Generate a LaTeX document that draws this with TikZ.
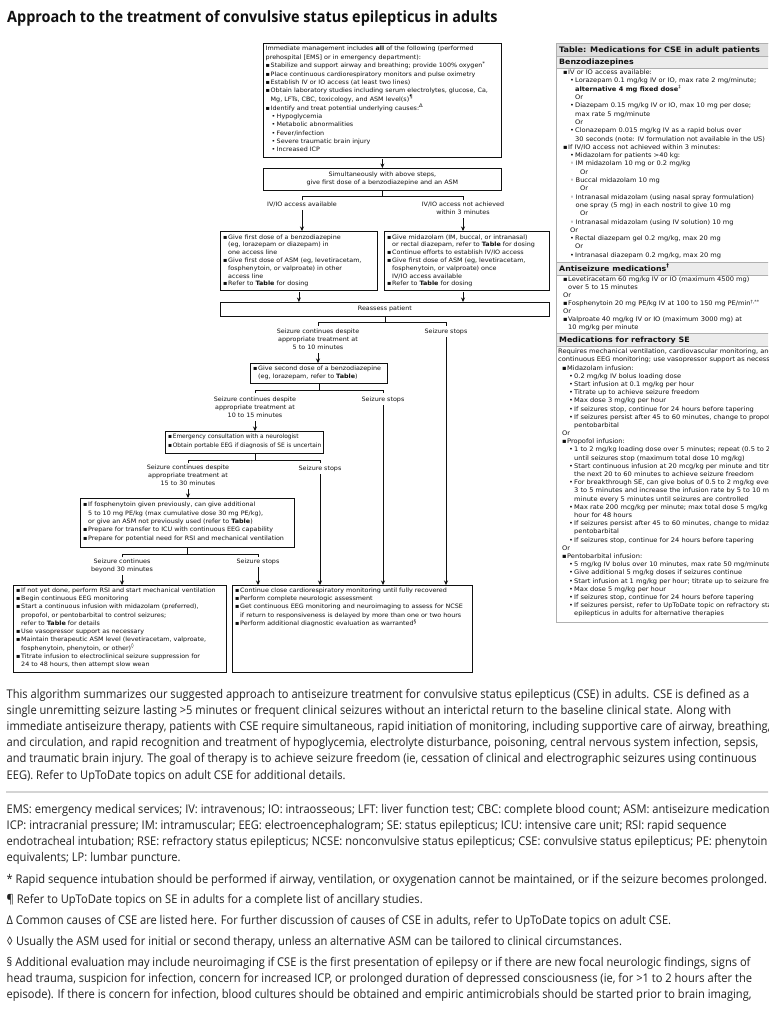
\documentclass[tikz,border=0pt]{standalone}
\usepackage{graphicx}
\usepackage{fontspec}
\setmainfont[FakeStretch=1.065]{DejaVu Sans}
\newfontfamily\fc[FakeStretch=1.065]{DejaVu Sans}
\newfontfamily\os[FakeStretch=0.925]{Open Sans}
\usetikzlibrary{arrows.meta,calc}
\definecolor{ink}{HTML}{111111}
\definecolor{txt}{HTML}{222222}
\definecolor{tblborder}{HTML}{B0B0B0}
\definecolor{tblhead}{HTML}{DDDDDD}
\definecolor{tblsec}{HTML}{ECECEC}
\definecolor{rulegray}{HTML}{D4D4D4}
\newcommand\bA{\makebox[5pt][l]{▪}}
\newcommand\bB{\makebox[5pt][l]{•}}
\newcommand\bC{\makebox[5.5pt][l]{◦}}
\newcommand\hs[1]{\hspace*{#1pt}}
\newcommand\TL[2]{{\fontsize{6}{#1}\selectfont\begin{tabular}[t]{@{}l@{}}#2\end{tabular}}}
\newcommand\TT[2]{{\fontsize{6.25}{#1}\selectfont\begin{tabular}[t]{@{}l@{}}#2\end{tabular}}}
\newcommand\TC[2]{{\fontsize{6}{#1}\selectfont\begin{tabular}[t]{@{}c@{}}#2\end{tabular}}}
\newcommand\PL[2]{{\fontsize{12}{#1}\selectfont\begin{tabular}[t]{@{}l@{}}#2\end{tabular}}}
\tikzset{
  box/.style={draw=ink, line width=0.8pt, inner sep=0, anchor=north west, text=ink},
  ftxt/.style={inner sep=0, anchor=base west, text=ink, font=\fc},
  ctxt/.style={inner sep=0, anchor=base, text=ink, font=\fc},
  ln/.style={draw=ink, line width=0.6pt},
  arr/.style={ln, shorten <=1pt, -{Stealth[length=4.5pt,width=4pt]}},
  para/.style={inner sep=0, anchor=base west, text=txt, font=\os},
  secrow/.style={fill=tblsec, draw=tblborder, line width=0.6pt, minimum width=230pt, anchor=north west, inner sep=0},
  sectxt/.style={inner sep=0, anchor=base west, text=ink, font=\fc\bfseries\fontsize{7.4}{8}\selectfont},
}
\begin{document}
\begin{tikzpicture}[x=1pt,y=-1pt]
\useasboundingbox (0,0) rectangle (768,1024);
\fill[white] (0,0) rectangle (768,1024);
\clip (0,0) rectangle (768,1024);

% title
\node[para, text=ink, font=\os\bfseries\fontsize{15.6}{18}\selectfont] (title) at (7,23) {Approach to the treatment of convulsive status epilepticus in adults};

% ---------- flowchart boxes ----------
\node[box, minimum width=238pt, minimum height=114pt] (top) at (263,43) {};
\node[ftxt] (topt) at (265.5,50.7) {\TL{8.33}{Immediate management includes \textbf{all} of the following (performed\\
prehospital [EMS] or in emergency department):\\
\bA Stabilize and support airway and breathing; provide 100\% oxygen\textsuperscript{*}\\
\bA Place continuous cardiorespiratory monitors and pulse oximetry\\
\bA Establish IV or IO access (at least two lines)\\
\bA Obtain laboratory studies including serum electrolytes, glucose, Ca,\\
\hs{5}Mg, LFTs, CBC, toxicology, and ASM level(s)\textsuperscript{¶}\\
\bA Identify and treat potential underlying causes:\textsuperscript{Δ}\\
\hs{6}\bB Hypoglycemia\\
\hs{6}\bB Metabolic abnormalities\\
\hs{6}\bB Fever/infection\\
\hs{6}\bB Severe traumatic brain injury\\
\hs{6}\bB Increased ICP}};

\node[box, minimum width=238pt, minimum height=22pt] (sim) at (263,168) {\TC{8}{Simultaneously with above steps,\\ give first dose of a benzodiazepine and an ASM}};

\node[ctxt] (la) at (302,206.7) {\TC{8}{IV/IO access available}};
\node[ctxt] (lb) at (463,206.7) {\TC{8}{IV/IO access not achieved\\ within 3 minutes}};

\node[box, minimum width=157pt, minimum height=59pt] (l1) at (220,231) {};
\node[ftxt] (l1t) at (223,239.2) {\TL{7.8}{\bA Give first dose of a benzodiazepine\\
\hs{5}(eg, lorazepam or diazepam) in\\
\hs{5}one access line\\
\bA Give first dose of ASM (eg, levetiracetam,\\
\hs{5}fosphenytoin, or valproate) in other\\
\hs{5}access line\\
\bA Refer to \textbf{Table} for dosing}};

\node[box, minimum width=165pt, minimum height=59pt] (r1) at (384,231) {};
\node[ftxt] (r1t) at (387,239.2) {\TL{7.8}{\bA Give midazolam (IM, buccal, or intranasal)\\
\hs{5}or rectal diazepam, refer to \textbf{Table} for dosing\\
\bA Continue efforts to establish IV/IO access\\
\bA Give first dose of ASM (eg, levetiracetam,\\
\hs{5}fosphenytoin, or valproate) once\\
\hs{5}IV/IO access available\\
\bA Refer to \textbf{Table} for dosing}};

\node[box, minimum width=329pt, minimum height=13.5pt] (re) at (220,302) {\TC{8}{Reassess patient}};

\node[ctxt] (lc) at (318,333.7) {\TC{8}{Seizure continues despite\\ appropriate treatment at\\ 5 to 10 minutes}};
\node[ctxt] (ld) at (446,333.7) {\TC{8}{Seizure stops}};

\node[box, minimum width=137pt, minimum height=20pt] (sd) at (250,363) {};
\node[ftxt] (sdt) at (253,370.7) {\TL{8}{\bA Give second dose of a benzodiazepine\\
\hs{5}(eg, lorazepam, refer to \textbf{Table})}};

\node[ctxt] (le) at (255,401.7) {\TC{8}{Seizure continues despite\\ appropriate treatment at\\ 10 to 15 minutes}};
\node[ctxt] (lf) at (383,401.7) {\TC{8}{Seizure stops}};

\node[box, minimum width=158pt, minimum height=22pt] (ne) at (165,431) {};
\node[ftxt] (net) at (168,438.7) {\scalebox{0.92}[1]{\TL{8.5}{\bA Emergency consultation with a neurologist\\
\bA Obtain portable EEG if diagnosis of SE is uncertain}}};

\node[ctxt] (lg) at (188,469.7) {\TC{8}{Seizure continues despite\\ appropriate treatment at\\ 15 to 30 minutes}};
\node[ctxt] (lh) at (320,470.7) {\TC{8}{Seizure stops}};

\node[box, minimum width=214pt, minimum height=49pt] (fo) at (80,498) {};
\node[ftxt] (fot) at (83,506.7) {\TL{8.4}{\bA If fosphenytoin given previously, can give additional\\
\hs{5}5 to 10 mg PE/kg (max cumulative dose 30 mg PE/kg),\\
\hs{5}or give an ASM not previously used (refer to \textbf{Table})\\
\bA Prepare for transfer to ICU with continuous EEG capability\\
\bA Prepare for potential need for RSI and mechanical ventilation}};

\node[ctxt] (li) at (122,563.7) {\TC{8}{Seizure continues\\ beyond 30 minutes}};
\node[ctxt] (lj) at (258,563.7) {\TC{8}{Seizure stops}};

\node[box, minimum width=213pt, minimum height=87pt] (bl) at (13,585) {};
\node[ftxt] (blt) at (16,592.7) {\TL{8.1}{\bA If not yet done, perform RSI and start mechanical ventilation\\
\bA Begin continuous EEG monitoring\\
\bA Start a continuous infusion with midazolam (preferred),\\
\hs{5}propofol, or pentobarbital to control seizures;\\
\hs{5}refer to \textbf{Table} for details\\
\bA Use vasopressor support as necessary\\
\bA Maintain therapeutic ASM level (levetiracetam, valproate,\\
\hs{5}fosphenytoin, phenytoin, or other)\textsuperscript{◊}\\
\bA Titrate infusion to electroclinical seizure suppression for\\
\hs{5}24 to 48 hours, then attempt slow wean}};

\node[box, minimum width=240pt, minimum height=87pt] (br) at (232,585) {};
\node[ftxt] (brt) at (235,592.7) {\TL{8.1}{\bA Continue close cardiorespiratory monitoring until fully recovered\\
\bA Perform complete neurologic assessment\\
\bA Get continuous EEG monitoring and neuroimaging to assess for NCSE\\
\hs{5}if return to responsiveness is delayed by more than one or two hours\\
\bA Perform additional diagnostic evaluation as warranted\textsuperscript{§}}};

% ---------- connectors ----------
\draw[arr] (top.south) -- (sim.north);
\coordinate (j1) at ($(sim.south)+(0,6)$);
\draw[ln] (sim.south) -- (j1);
\draw[ln] ($(la.north |- j1)+(0,3.5)$) -- (la.north |- j1) -- (lb.north |- j1) -- ++(0,3.5);
\draw[arr] (la.south) -- (la.south |- l1.north);
\draw[arr] (lb.south) -- (lb.south |- r1.north);
\draw[arr] (l1.south) -- (l1.south |- re.north);
\draw[arr] (r1.south -| lb.south) -- (lb.south |- re.north);

\coordinate (j2) at ($(re.south)+(0,6)$);
\draw[ln] (re.south) -- (j2);
\draw[ln] ($(lc.north |- j2)+(0,3.5)$) -- (lc.north |- j2) -- (ld.north |- j2) -- ++(0,3.5);
\draw[arr] (lc.south) -- (lc.south |- sd.north);
\draw[arr] (ld.south) -- (ld.south |- br.north);

\coordinate (j3) at ($(sd.south)+(0,6)$);
\draw[ln] (sd.south) -- (j3);
\draw[ln] ($(le.north |- j3)+(0,3.5)$) -- (le.north |- j3) -- (lf.north |- j3) -- ++(0,3.5);
\draw[arr] (le.south) -- (le.south |- ne.north);
\draw[arr] (lf.south) -- (lf.south |- br.north);

\coordinate (j4) at ($(le.south |- ne.south)+(0,6)$);
\draw[ln] (le.south |- ne.south) -- (j4);
\draw[ln] ($(lg.north |- j4)+(0,3.5)$) -- (lg.north |- j4) -- (lh.north |- j4) -- ++(0,3.5);
\draw[arr] (lg.south) -- (lg.south |- fo.north);
\draw[arr] (lh.south) -- (lh.south |- br.north);

\coordinate (j5) at ($(fo.south)+(0,6)$);
\draw[ln] (fo.south) -- (j5);
\draw[ln] ($(li.north |- j5)+(0,3.5)$) -- (li.north |- j5) -- (lj.north |- j5) -- ++(0,3.5);
\draw[arr] (li.south) -- (li.south |- bl.north);
\draw[arr] (lj.south) -- (lj.south |- br.north);

% ---------- table ----------
\node[draw=tblborder, line width=0.8pt, minimum width=230pt, minimum height=579pt, anchor=north west, inner sep=0] (tbl) at (556,43) {};
\node[secrow, fill=tblhead, minimum height=13pt] (th) at (556,43) {};
\node[secrow, minimum height=12pt] (s1) at (556,56) {};
\node[secrow, minimum height=13pt] (s2) at (556,262) {};
\node[secrow, minimum height=13pt] (s3) at (556,333) {};
\node[sectxt, font=\fc\bfseries\fontsize{7.6}{8}\selectfont] (tht) at (559,52.8) {Table: Medications for CSE in adult patients};
\node[sectxt] (s1t) at (559,64.4) {Benzodiazepines};
\node[sectxt] (s2t) at (559,271) {Antiseizure medications\textsuperscript{†}};
\node[sectxt] (s3t) at (559,342.3) {Medications for refractory SE};

\node[ftxt] (b1t) at (558,74.7) {\TT{8.3}{\hs{5}\bA IV or IO access available:\\
\hs{12}\bB Lorazepam 0.1 mg/kg IV or IO, max rate 2 mg/minute;\\
\hs{17}\textbf{alternative 4 mg fixed dose}\textsuperscript{‡}\\
\hs{17}Or\\
\hs{12}\bB Diazepam 0.15 mg/kg IV or IO, max 10 mg per dose;\\
\hs{17}max rate 5 mg/minute\\
\hs{17}Or\\
\hs{12}\bB Clonazepam 0.015 mg/kg IV as a rapid bolus over\\
\hs{17}30 seconds (note: IV formulation not available in the US)\\
\hs{5}\bA If IV/IO access not achieved within 3 minutes:\\
\hs{12}\bB Midazolam for patients >40 kg:\\
\hs{12}\bC IM midazolam 10 mg or 0.2 mg/kg\\
\hs{22}Or\\
\hs{12}\bC Buccal midazolam 10 mg\\
\hs{22}Or\\
\hs{12}\bC Intranasal midazolam (using nasal spray formulation)\\
\hs{17.5}one spray (5 mg) in each nostril to give 10 mg\\
\hs{22}Or\\
\hs{12}\bC Intranasal midazolam (using IV solution) 10 mg\\
\hs{12}Or\\
\hs{12}\bB Rectal diazepam gel 0.2 mg/kg, max 20 mg\\
\hs{17}Or\\
\hs{12}\bB Intranasal diazepam 0.2 mg/kg, max 20 mg}};

\node[ftxt] (b2t) at (558,281.7) {\TT{7.85}{\hs{5}\bA Levetiracetam 60 mg/kg IV or IO (maximum 4500 mg)\\
\hs{10}over 5 to 15 minutes\\
\hs{5}Or\\
\hs{5}\bA Fosphenytoin 20 mg PE/kg IV at 100 to 150 mg PE/min\textsuperscript{†,**}\\
\hs{5}Or\\
\hs{5}\bA Valproate 40 mg/kg IV or IO (maximum 3000 mg) at\\
\hs{10}10 mg/kg per minute}};

\node[ftxt] (b3t) at (558,353.7) {\TT{8.19}{Requires mechanical ventilation, cardiovascular monitoring, and\\
continuous EEG monitoring; use vasopressor support as necessary\\
\hs{4}\bA Midazolam infusion:\\
\hs{11}\bB 0.2 mg/kg IV bolus loading dose\\
\hs{11}\bB Start infusion at 0.1 mg/kg per hour\\
\hs{11}\bB Titrate up to achieve seizure freedom\\
\hs{11}\bB Max dose 3 mg/kg per hour\\
\hs{11}\bB If seizures stop, continue for 24 hours before tapering\\
\hs{11}\bB If seizures persist after 45 to 60 minutes, change to propofol or\\
\hs{16}pentobarbital\\
\hs{4}Or\\
\hs{4}\bA Propofol infusion:\\
\hs{11}\bB 1 to 2 mg/kg loading dose over 5 minutes; repeat (0.5 to 2 mg/kg)\\
\hs{16}until seizures stop (maximum total dose 10 mg/kg)\\
\hs{11}\bB Start continuous infusion at 20 mcg/kg per minute and titrate over\\
\hs{16}the next 20 to 60 minutes to achieve seizure freedom\\
\hs{11}\bB For breakthrough SE, can give bolus of 0.5 to 2 mg/kg every\\
\hs{16}3 to 5 minutes and increase the infusion rate by 5 to 10 mcg/kg per\\
\hs{16}minute every 5 minutes until seizures are controlled\\
\hs{11}\bB Max rate 200 mcg/kg per minute; max total dose 5 mg/kg per\\
\hs{16}hour for 48 hours\\
\hs{11}\bB If seizures persist after 45 to 60 minutes, change to midazolam or\\
\hs{16}pentobarbital\\
\hs{11}\bB If seizures stop, continue for 24 hours before tapering\\
\hs{4}Or\\
\hs{4}\bA Pentobarbital infusion:\\
\hs{11}\bB 5 mg/kg IV bolus over 10 minutes, max rate 50 mg/minute\\
\hs{11}\bB Give additional 5 mg/kg doses if seizures continue\\
\hs{11}\bB Start infusion at 1 mg/kg per hour; titrate up to seizure freedom\\
\hs{11}\bB Max dose 5 mg/kg per hour\\
\hs{11}\bB If seizures stop, continue for 24 hours before tapering\\
\hs{11}\bB If seizures persist, refer to UpToDate topic on refractory status\\
\hs{16}epilepticus in adults for alternative therapies}};

% ---------- text below ----------
\node[para] (p1) at (6.5,698) {\PL{16.2}{This algorithm summarizes our suggested approach to antiseizure treatment for convulsive status epilepticus (CSE) in adults. CSE is defined as a\\
single unremitting seizure lasting >5 minutes or frequent clinical seizures without an interictal return to the baseline clinical state. Along with\\
immediate antiseizure therapy, patients with CSE require simultaneous, rapid initiation of monitoring, including supportive care of airway, breathing,\\
and circulation, and rapid recognition and treatment of hypoglycemia, electrolyte disturbance, poisoning, central nervous system infection, sepsis,\\
and traumatic brain injury. The goal of therapy is to achieve seizure freedom (ie, cessation of clinical and electrographic seizures using continuous\\
EEG). Refer to UpToDate topics on adult CSE for additional details.}};
\draw[rulegray, line width=2pt] (6,792) -- (780,792);
\node[para] (p2) at (6.5,813) {\PL{16.3}{EMS: emergency medical services; IV: intravenous; IO: intraosseous; LFT: liver function test; CBC: complete blood count; ASM: antiseizure medication;\\
ICP: intracranial pressure; IM: intramuscular; EEG: electroencephalogram; SE: status epilepticus; ICU: intensive care unit; RSI: rapid sequence\\
endotracheal intubation; RSE: refractory status epilepticus; NCSE: nonconvulsive status epilepticus; CSE: convulsive status epilepticus; PE: phenytoin\\
equivalents; LP: lumbar puncture.}};
\node[para] (f1) at (6.5,883) {\PL{16}{{*} Rapid sequence intubation should be performed if airway, ventilation, or oxygenation cannot be maintained, or if the seizure becomes prolonged.}};
\node[para] (f2) at (6.5,903.5) {\PL{16}{¶ Refer to UpToDate topics on SE in adults for a complete list of ancillary studies.}};
\node[para] (f3) at (6.5,924) {\PL{16}{Δ Common causes of CSE are listed here. For further discussion of causes of CSE in adults, refer to UpToDate topics on adult CSE.}};
\node[para] (f4) at (6.5,945) {\PL{16}{◊ Usually the ASM used for initial or second therapy, unless an alternative ASM can be tailored to clinical circumstances.}};
\node[para] (f5) at (6.5,966) {\PL{16}{§ Additional evaluation may include neuroimaging if CSE is the first presentation of epilepsy or if there are new focal neurologic findings, signs of\\
head trauma, suspicion for infection, concern for increased ICP, or prolonged duration of depressed consciousness (ie, for >1 to 2 hours after the\\
episode). If there is concern for infection, blood cultures should be obtained and empiric antimicrobials should be started prior to brain imaging,}};
\end{tikzpicture}
\end{document}
